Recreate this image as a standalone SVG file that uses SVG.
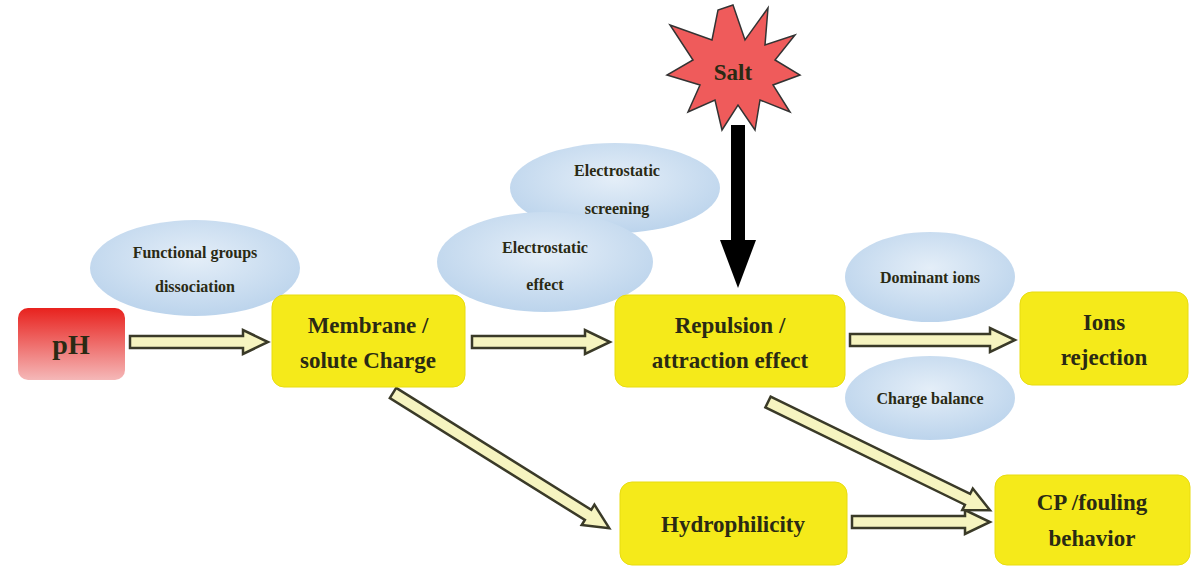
<svg xmlns="http://www.w3.org/2000/svg" width="1201" height="573" viewBox="0 0 1201 573">
<style>
.box{fill:#f5ea1a;stroke:#e8dc10;stroke-width:1}
.ell{fill:#c9ddf0;opacity:0.85}
.t{font-family:"Liberation Serif",serif;font-weight:bold;fill:#2a2a14;text-anchor:middle}
.big{font-size:23px}
.sm{font-size:16px}
.arr{fill:#f6f4c0;stroke:#3a3a28;stroke-width:2.5;stroke-linejoin:miter}
</style>
<defs>
<linearGradient id="red" x1="0" y1="0" x2="0" y2="1"><stop offset="0" stop-color="#e8221e"/><stop offset="1" stop-color="#f5b8b8"/></linearGradient>
<radialGradient id="eg" cx="0.5" cy="0.4" r="0.6"><stop offset="0" stop-color="#e4eef8"/><stop offset="1" stop-color="#bcd4ec"/></radialGradient>
</defs>
<g id="ellipses">
<ellipse id="e-func" cx="195" cy="268" rx="105" ry="48" fill="url(#eg)"/>
<ellipse id="e-screen" cx="615" cy="188" rx="105" ry="45" fill="url(#eg)"/>
<ellipse id="e-effect" cx="545" cy="262" rx="108" ry="50" fill="url(#eg)"/>
<ellipse id="e-dom" cx="930" cy="277" rx="85" ry="45" fill="url(#eg)"/>
<ellipse id="e-bal" cx="930" cy="398" rx="85" ry="42" fill="url(#eg)"/>
<text class="t sm" x="195" y="258">Functional groups</text>
<text class="t sm" x="195" y="292">dissociation</text>
<text class="t sm" x="617" y="176">Electrostatic</text>
<text class="t sm" x="617" y="214">screening</text>
<text class="t sm" x="545" y="253">Electrostatic</text>
<text class="t sm" x="545" y="290">effect</text>
<text class="t sm" x="930" y="283">Dominant ions</text>
<text class="t sm" x="930" y="404">Charge balance</text>
</g>
<g id="connectors">
<polygon class="arr" transform="translate(130,342)" points="0,-6 113,-6 113,-12 138,0 113,12 113,6 0,6"/>
<polygon class="arr" transform="translate(472,342)" points="0,-6 113,-6 113,-12 138,0 113,12 113,6 0,6"/>
<polygon class="arr" transform="translate(850,340)" points="0,-6 140,-6 140,-12 165,0 140,12 140,6 0,6"/>
<polygon class="arr" transform="translate(852,522)" points="0,-6 113,-6 113,-12 138,0 113,12 113,6 0,6"/>
<polygon class="arr" transform="translate(393,393) rotate(32)" points="0,-6 230,-6 230,-12 255,0 230,12 230,6 0,6"/>
<polygon class="arr" transform="translate(768,402) rotate(26)" points="0,-6 222,-6 222,-12 247,0 222,12 222,6 0,6"/>
<polygon fill="#000" points="731,125 745,125 745,240 756,240 738,288 720,240 731,240"/>
</g>
<g id="salt">
<polygon fill="#ef5b5b" stroke="#333" stroke-width="1.5" points="733,5 745,40 768,8 765,45 795,35 775,60 800,75 773,85 790,112 760,100 755,130 738,105 722,130 715,100 688,112 700,85 667,75 693,60 670,25 712,40 718,10"/>
<text class="t" x="733" y="80" font-size="23" fill="#3a1010">Salt</text>
</g>
<g id="pH"><rect x="18" y="308" width="107" height="72" rx="10" fill="url(#red)"/><text class="t" x="71" y="354" font-size="28" fill="#3a1010">pH</text></g>
<g id="membrane"><rect class="box" x="272" y="295" width="193" height="92" rx="12"/><text class="t big" x="368" y="333">Membrane /</text><text class="t big" x="368" y="368">solute Charge</text></g>
<g id="repulsion"><rect class="box" x="615" y="295" width="230" height="92" rx="12"/><text class="t big" x="730" y="333">Repulsion /</text><text class="t big" x="730" y="368">attraction effect</text></g>
<g id="ions"><rect class="box" x="1020" y="292" width="168" height="93" rx="12"/><text class="t big" x="1104" y="330">Ions</text><text class="t big" x="1104" y="365">rejection</text></g>
<g id="hydro"><rect class="box" x="620" y="482" width="227" height="83" rx="12"/><text class="t big" x="733" y="532">Hydrophilicity</text></g>
<g id="cp"><rect class="box" x="995" y="475" width="195" height="90" rx="12"/><text class="t big" x="1092" y="510">CP /fouling</text><text class="t big" x="1092" y="546">behavior</text></g>
</svg>
